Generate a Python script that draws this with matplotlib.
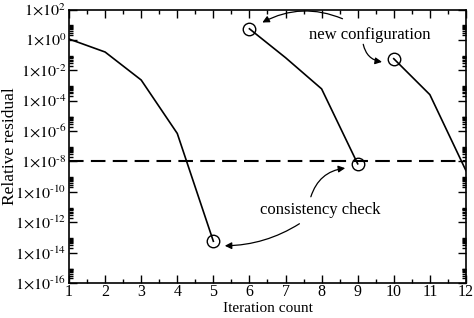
import numpy as np
import matplotlib.pyplot as plt
from matplotlib.ticker import FixedLocator, FuncFormatter

plt.rcParams['font.family'] = 'Liberation Serif'
plt.rcParams['mathtext.fontset'] = 'stix'

# data
it1 = [1, 2, 3, 4, 5]
res1 = [1.15, 0.16, 2.3e-3, 7e-7, 5.6e-14]
it2 = [6, 7, 8, 9]
res2 = [5.4, 0.068, 6e-4, 7e-9]
it3 = [10, 11, 12]
res3 = [0.058, 2.5e-4, 2.5e-9]
tol = 1e-8
circ_x = [5, 6, 9, 10]
circ_y = [res1[-1], res2[0], res2[-1], res3[0]]

fig = plt.figure(figsize=(4.74, 3.18), dpi=100)
ax = fig.add_axes([0.1456, 0.11, 0.8374, 0.86])

for x, y in [(it1, res1), (it2, res2), (it3, res3)]:
    ax.plot(x, y, color='black', lw=1.2)
ax.plot(circ_x, circ_y, 'o', mfc='none', mec='black', ms=9, mew=1.0)
ax.axhline(tol, color='black', lw=1.5, ls=(0, (7, 3.5)))

ax.set_yscale('log')
ax.set_xlim(1, 12)
ax.set_ylim(1e-16, 1e2)

ax.xaxis.set_major_locator(FixedLocator(range(1, 13)))
ax.xaxis.set_minor_locator(FixedLocator(np.arange(1.5, 12, 1)))
majors = [10.0 ** e for e in range(-16, 3, 2)]
ax.yaxis.set_major_locator(FixedLocator(majors))
minors = [k * 10.0 ** e for e in range(-16, 1, 2) for k in range(2, 10)]
ax.yaxis.set_minor_locator(FixedLocator(minors))


def exp_label(v, pos):
    e = round(np.log10(v))
    return r'$1{\times}10^{\text{%d}}$' % e


ax.yaxis.set_major_formatter(FuncFormatter(exp_label))
ax.yaxis.set_minor_formatter(FuncFormatter(lambda v, p: ''))

ax.tick_params(which='both', direction='in', top=True, right=True,
               labelsize=11.5, width=1.0)
ax.tick_params(which='major', length=6)
ax.tick_params(which='minor', length=3)
ax.tick_params(axis='y', pad=2)
ax.tick_params(axis='x', pad=1)
for s in ax.spines.values():
    s.set_linewidth(1.2)

ax.set_xlabel('Iteration count', fontsize=11)
ax.xaxis.set_label_coords(0.5, -0.068)
ax.set_ylabel('Relative residual', fontsize=12.5)
ax.yaxis.set_label_coords(-0.128, 0.5)

ax.text(9.34, 2.2, 'new configuration', ha='center', va='center', fontsize=12)
ax.text(7.95, 10 ** -11.2, 'consistency check', ha='center', va='center', fontsize=12)

arrow = dict(arrowstyle='-|>', color='black', lw=0.9, mutation_scale=10)
ax.annotate('', xy=(6.29, 11.5), xytext=(8.65, 21),
            arrowprops=dict(arrow, connectionstyle='arc3,rad=0.25'))
ax.annotate('', xy=(9.75, 0.034), xytext=(9.14, 0.78),
            arrowprops=dict(arrow, connectionstyle='arc3,rad=0.4'))
ax.annotate('', xy=(8.73, 10 ** -8.42), xytext=(7.68, 10 ** -10.5),
            arrowprops=dict(arrow, connectionstyle='arc3,rad=-0.35'))
ax.annotate('', xy=(5.24, 10 ** -13.55), xytext=(7.45, 1e-12),
            arrowprops=dict(arrow, connectionstyle='arc3,rad=-0.15'))

fig.savefig('out.png', dpi=100)
